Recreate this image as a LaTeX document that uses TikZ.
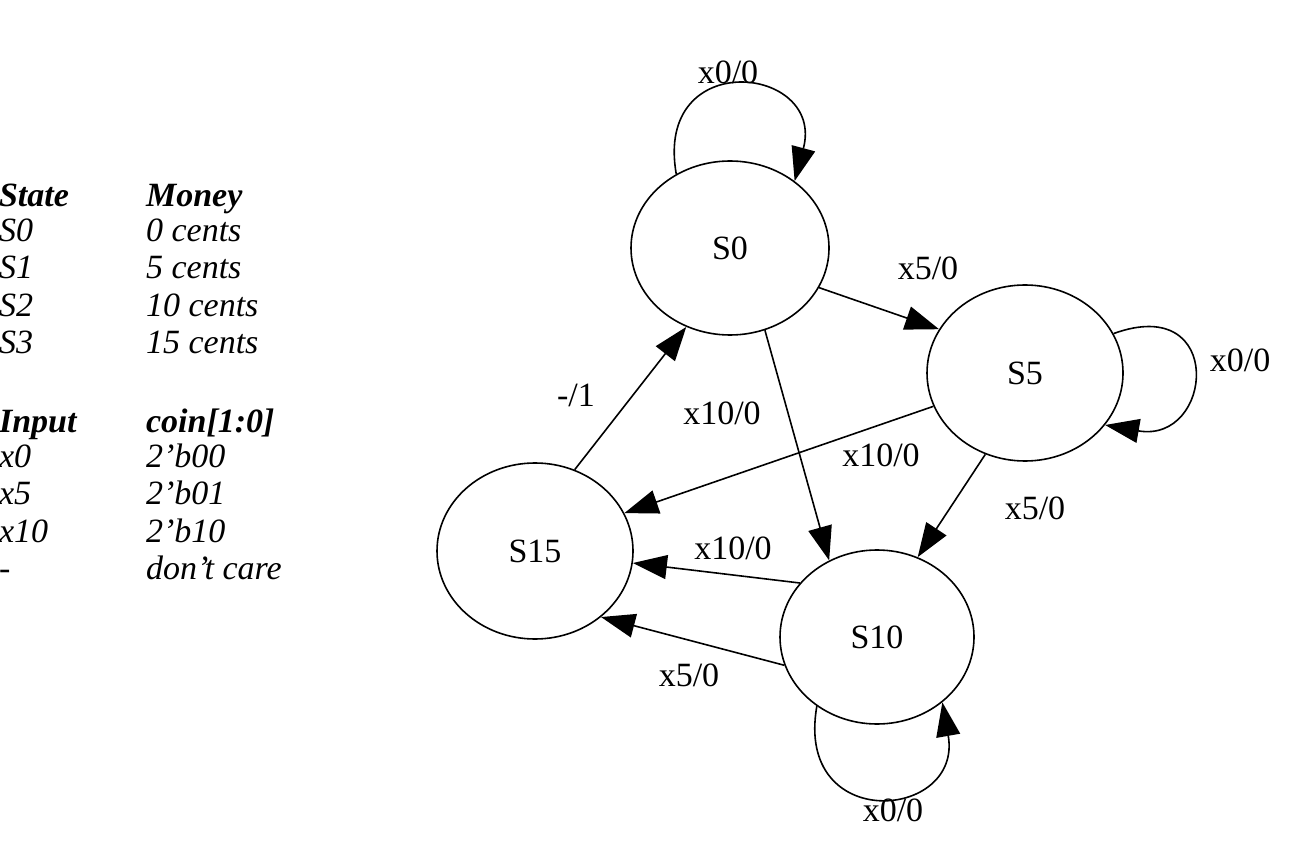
\documentclass[tikz,border=0pt]{standalone}
\usepackage{fontspec}
\setmainfont{Liberation Serif}
\usetikzlibrary{shapes.geometric,arrows.meta}
\begin{document}
\begin{tikzpicture}[x=0.5pt,y=0.5pt,
  st/.style={draw,ellipse,line width=0.8pt,inner sep=0pt,font=\fontsize{17}{20}\selectfont},
  lab/.style={font=\fontsize{17}{20}\selectfont},
  tb/.style={anchor=base west,font=\fontsize{17}{20}\selectfont\itshape},
  tbh/.style={anchor=base west,font=\fontsize{17}{20}\selectfont\itshape\bfseries},
  tr/.style={line width=0.8pt,-{Triangle[length=17pt,width=12pt]}}]
\clip (0,0) rectangle (1304,-860);
\useasboundingbox (0,0) rectangle (1304,-860);
\node[st,minimum width=99pt,minimum height=87pt] (S0) at (730,-248) {S0};
\node[st,minimum width=98pt,minimum height=88pt] (S5) at (1025,-373) {S5};
\node[st,minimum width=98pt,minimum height=88pt] (S15) at (535,-551) {S15};
\node[st,minimum width=97pt,minimum height=87pt] (S10) at (877,-637) {S10};
% loops
\draw[tr] (S0.126) .. controls +(100:130) and +(75:120) .. (S0.46);
\draw[tr] (S5.24) .. controls +(20:120) and +(-10:110) .. (S5.-33);
\draw[tr] (S10.229) .. controls +(260:130) and +(-80:120) .. (S10.-45);
% edges
\draw[tr] (S0.-24) -- (S5.153);
\draw[tr] (S0.-67) -- (S10.122);
\draw[tr] (S5.200) -- (S15.23);
\draw[tr] (S5.244) -- (S10.63);
\draw[tr] (S10.145) -- (S15.-7);
\draw[tr] (S10.197) -- (S15.-45);
\draw[tr] (S15.64) -- (S0.241);
% labels
\node[lab] (l1) at (728,-72) {x0/0};
\node[lab] (l2) at (928,-268) {x5/0};
\node[lab] (l3) at (1240,-360) {x0/0};
\node[lab] (l4) at (722,-413) {x10/0};
\node[lab] (l5) at (881,-455) {x10/0};
\node[lab] (l6) at (576,-395) {-/1};
\node[lab] (l7) at (1035,-508) {x5/0};
\node[lab] (l8) at (733,-548) {x10/0};
\node[lab] (l9) at (689,-675) {x5/0};
\node[lab] (l10) at (893,-810) {x0/0};
% table
\node[tbh] (h1) at (-8,-207) {State};
\node[tbh] (h2) at (139,-207) {Money};
\node[tb] (a1) at (-8,-242) {S0};  \node[tb] (b1) at (139,-242) {0 cents};
\node[tb] (a2) at (-8,-279) {S1};  \node[tb] (b2) at (139,-279) {5 cents};
\node[tb] (a3) at (-8,-317) {S2};  \node[tb] (b3) at (139,-317) {10 cents};
\node[tb] (a4) at (-8,-354) {S3};  \node[tb] (b4) at (139,-354) {15 cents};
\node[tbh] (h3) at (-8,-432) {Input};
\node[tbh] (h4) at (139,-432) {coin[1:0]};
\node[tb] (c1) at (-8,-467) {x0};  \node[tb] (d1) at (139,-467) {2'b00};
\node[tb] (c2) at (-8,-504) {x5};  \node[tb] (d2) at (139,-504) {2'b01};
\node[tb] (c3) at (-8,-542) {x10}; \node[tb] (d3) at (139,-542) {2'b10};
\node[tb] (c4) at (-8,-579) {-};   \node[tb] (d4) at (139,-579) {don't care};
\end{tikzpicture}
\end{document}
